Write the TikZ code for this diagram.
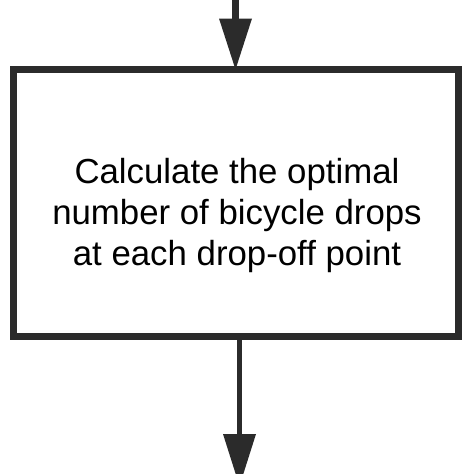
\documentclass[tikz,border=0pt]{standalone}
\usepackage{fontspec}
\setmainfont{Liberation Sans}
\usetikzlibrary{arrows.meta}
\definecolor{ink}{HTML}{2B2B2B}
\tikzset{
  procbox/.style={draw=ink, line width=7pt, minimum width=445pt, minimum height=266.5pt, outer sep=0pt, inner sep=0pt, fill=white},
  boxtext/.style={align=center, text=black, font=\fontsize{34.8}{41}\selectfont, inner sep=0pt},
  flowin/.style={draw=ink, line width=7pt, -{Triangle[width=33pt,length=51pt,line width=0pt]}},
  flowout/.style={draw=ink, line width=5pt, -{Triangle[width=33pt,length=52pt,line width=0pt]}}
}
\begin{document}
\begin{tikzpicture}[x=1pt,y=-1pt]
\useasboundingbox[fill=white] (0,0) rectangle (474,474);
\node[procbox] (box) at (236,202.75) {};
\node[boxtext] (txt) at (237,215) {Calculate the optimal\\number of bicycle drops\\at each drop-off point};
\coordinate (topin) at (235.5,-5);
\coordinate (botout) at (239.5,486);
\draw[flowin] (topin) -- (topin |- box.north);
\draw[flowout] (botout |- box.south) -- (botout);
\end{tikzpicture}
\end{document}
